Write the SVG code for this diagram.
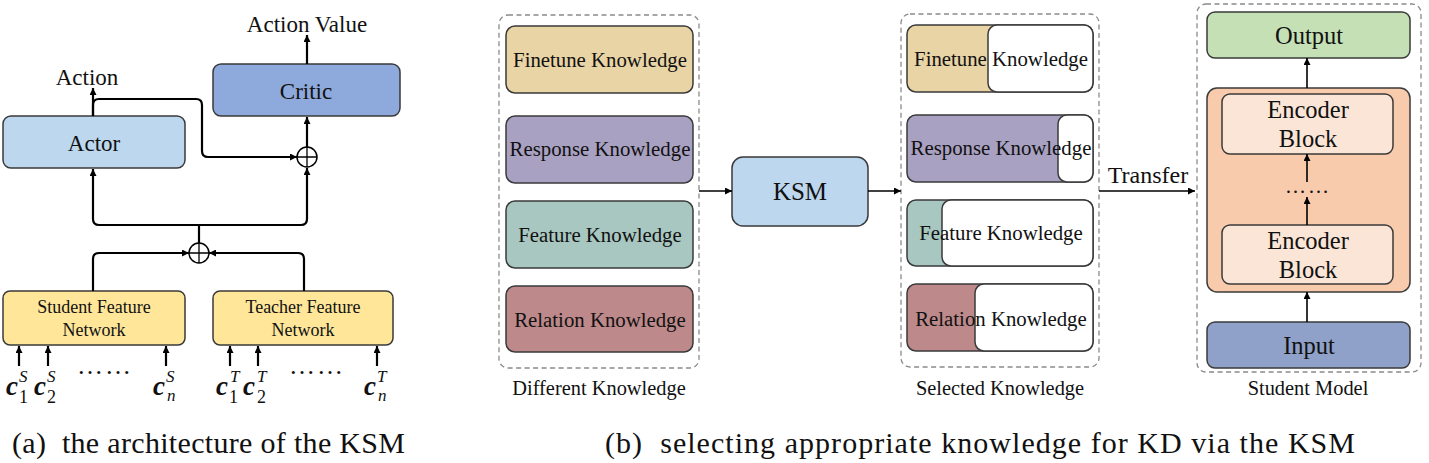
<svg xmlns="http://www.w3.org/2000/svg" width="1429" height="463" viewBox="0 0 1429 463" font-family="'Liberation Serif', 'Times New Roman', serif">
<style>
text{font-family:"Liberation Serif","Times New Roman",serif;fill:#111}
.box{stroke:#3a3a3a;stroke-width:1.5}
.dash{fill:none;stroke:#8a8a8a;stroke-width:1.3;stroke-dasharray:5 3.5}
.ca{fill:none;stroke:#000;stroke-width:2.2}
.cb{fill:none;stroke:#000;stroke-width:1.6}
.t23{font-size:23px;text-anchor:middle}
.t18{font-size:18px;text-anchor:middle}
.t21{font-size:20.8px;text-anchor:middle}
.t20{font-size:20.4px;text-anchor:middle}
.t24{font-size:24.5px;text-anchor:middle}
.cv{font-size:27px;font-weight:bold;font-style:italic}
.sup{font-size:17px;font-style:italic}
.sub{font-size:18px}
.dots{font-size:26px;letter-spacing:2px}
.dots2{font-size:21px;letter-spacing:2px}
.cap{font-size:30px}
</style>
<defs>
<marker id="ah" viewBox="0 0 10 10" refX="10" refY="5" markerWidth="8" markerHeight="7" markerUnits="userSpaceOnUse" orient="auto-start-reverse">
<path d="M0,0 L10,5 L0,10 z" fill="#000"/>
</marker>
</defs>

<!-- Part (a) -->
<g id="action-label"><text class="t23" x="87" y="85">Action</text></g>
<g id="action-value-label"><text class="t23" x="307" y="32">Action Value</text></g>
<g id="actor"><rect class="box" x="3" y="116" width="182" height="52" rx="8" fill="#BDD7EE"/><text class="t23" x="94" y="151">Actor</text></g>
<g id="critic"><rect class="box" x="213" y="64" width="187" height="52" rx="8" fill="#8EA9DB"/><text class="t23" x="306" y="99">Critic</text></g>
<g id="plus-top"><circle cx="307" cy="157" r="10" fill="#fff" stroke="#000" stroke-width="1.5"/><path d="M297,157 H317 M307,147 V167" stroke="#000" stroke-width="1.3"/></g>
<g id="plus-bottom"><circle cx="199" cy="253" r="10" fill="#fff" stroke="#000" stroke-width="1.5"/><path d="M189,253 H209 M199,243 V263" stroke="#000" stroke-width="1.3"/></g>
<g id="student-feature-network"><rect class="box" x="3" y="291" width="182" height="54" rx="7" fill="#FFE699"/><text class="t18" x="94" y="313">Student Feature</text><text class="t18" x="94" y="336">Network</text></g>
<g id="teacher-feature-network"><rect class="box" x="213" y="291" width="180" height="54" rx="7" fill="#FFE699"/><text class="t18" x="303" y="313">Teacher Feature</text><text class="t18" x="303" y="336">Network</text></g>

<g id="inputs-a">
<text x="6" y="395" class="cv">c</text><text x="19" y="382" class="sup">S</text><text x="19" y="403" class="sub">1</text>
<text x="34" y="395" class="cv">c</text><text x="47" y="382" class="sup">S</text><text x="47" y="403" class="sub">2</text>
<text x="77" y="374" class="dots">……</text>
<text x="153" y="395" class="cv">c</text><text x="166" y="382" class="sup">S</text><text x="167" y="401" class="sup">n</text>
<text x="216" y="395" class="cv">c</text><text x="230" y="382" class="sup">T</text><text x="229" y="403" class="sub">1</text>
<text x="243" y="395" class="cv">c</text><text x="257" y="382" class="sup">T</text><text x="257" y="403" class="sub">2</text>
<text x="289" y="374" class="dots">……</text>
<text x="364" y="395" class="cv">c</text><text x="377" y="382" class="sup">T</text><text x="378" y="401" class="sup">n</text>
</g>

<g id="connectors-a">
<path class="ca" d="M93,116 V88" marker-end="url(#ah)"/>
<path class="ca" d="M93,116 V105 Q93,99 99,99 H196 Q202,99 202,105 V151 Q202,157 208,157 H297" marker-end="url(#ah)"/>
<path class="ca" d="M307,147 V117" marker-end="url(#ah)"/>
<path class="ca" d="M307,64 V35" marker-end="url(#ah)"/>
<path class="ca" d="M93,169 V219 Q93,225 99,225 H301 Q307,225 307,219 V168" marker-start="url(#ah)" marker-end="url(#ah)"/>
<path class="ca" d="M199,243 V225"/>
<path class="ca" d="M93,291 V259 Q93,253 99,253 H189" marker-end="url(#ah)"/>
<path class="ca" d="M304,291 V259 Q304,253 298,253 H209" marker-end="url(#ah)"/>
<path class="ca" d="M19,366 V346" marker-end="url(#ah)"/>
<path class="ca" d="M48,366 V346" marker-end="url(#ah)"/>
<path class="ca" d="M166,366 V346" marker-end="url(#ah)"/>
<path class="ca" d="M230,366 V346" marker-end="url(#ah)"/>
<path class="ca" d="M258,366 V346" marker-end="url(#ah)"/>
<path class="ca" d="M377,366 V346" marker-end="url(#ah)"/>
</g>

<text class="cap" x="12" y="453" textLength="393" lengthAdjust="spacing" xml:space="preserve">(a)  the architecture of the KSM</text>

<!-- Part (b) -->
<g id="different-knowledge">
<rect class="dash" x="499" y="15" width="200" height="353" rx="9"/>
<text class="t20" x="599" y="395">Different Knowledge</text>
</g>
<g id="finetune-knowledge"><rect class="box" x="506" y="26" width="187" height="67" rx="9" fill="#E9D4A5"/><text class="t21" x="600" y="67">Finetune Knowledge</text></g>
<g id="response-knowledge"><rect class="box" x="506" y="116" width="187" height="67" rx="9" fill="#A9A1C2"/><text class="t21" x="600" y="156">Response Knowledge</text></g>
<g id="feature-knowledge"><rect class="box" x="506" y="201" width="187" height="67" rx="9" fill="#A8C7C0"/><text class="t21" x="600" y="242">Feature Knowledge</text></g>
<g id="relation-knowledge"><rect class="box" x="506" y="286" width="187" height="66" rx="9" fill="#BE898B"/><text class="t21" x="600" y="327">Relation Knowledge</text></g>

<g id="ksm"><rect class="box" x="732" y="157" width="136" height="69" rx="11" fill="#BDD7EE"/><text x="800" y="200" style="font-size:25px;text-anchor:middle">KSM</text></g>

<g id="selected-knowledge">
<rect class="dash" x="901" y="14" width="198" height="353" rx="9"/>
<text class="t20" x="1000" y="395">Selected Knowledge</text>
</g>
<g id="sel-finetune"><rect class="box" x="907" y="25" width="186" height="67" rx="9" fill="#E9D4A5"/><rect class="box" x="988" y="25" width="105" height="67" rx="9" fill="#fff"/><text class="t21" x="1001" y="66">Finetune Knowledge</text></g>
<g id="sel-response"><rect class="box" x="907" y="115" width="186" height="67" rx="9" fill="#A9A1C2"/><rect class="box" x="1058" y="115" width="35" height="67" rx="9" fill="#fff"/><text class="t21" x="1001" y="155">Response Knowledge</text></g>
<g id="sel-feature"><rect class="box" x="907" y="200" width="186" height="66" rx="9" fill="#A8C7C0"/><rect class="box" x="942" y="200" width="151" height="66" rx="9" fill="#fff"/><text class="t21" x="1001" y="240">Feature Knowledge</text></g>
<g id="sel-relation"><rect class="box" x="907" y="284" width="186" height="67" rx="9" fill="#BE898B"/><rect class="box" x="975" y="284" width="118" height="67" rx="9" fill="#fff"/><text class="t21" x="1001" y="326">Relation Knowledge</text></g>

<g id="transfer-label"><text x="1148" y="183" style="font-size:24px;text-anchor:middle">Transfer</text></g>

<g id="student-model">
<rect class="dash" x="1197" y="4" width="224" height="368" rx="9"/>
<text class="t20" x="1308" y="395">Student Model</text>
</g>
<g id="output"><rect class="box" x="1207" y="12" width="203" height="46" rx="8" fill="#C5E0B4"/><text class="t24" x="1309" y="44">Output</text></g>
<g id="encoder-stack"><rect class="box" x="1207" y="88" width="203" height="204" rx="10" fill="#F8CBAD"/></g>
<g id="encoder-block-1"><rect class="box" x="1222" y="94" width="171" height="60" rx="8" fill="#FBE5D6"/><text class="t24" x="1308" y="118">Encoder</text><text class="t24" x="1308" y="147">Block</text></g>
<g id="encoder-dots"><text x="1285" y="193" class="dots2">……</text></g>
<g id="encoder-block-2"><rect class="box" x="1222" y="225" width="171" height="59" rx="8" fill="#FBE5D6"/><text class="t24" x="1308" y="249">Encoder</text><text class="t24" x="1308" y="278">Block</text></g>
<g id="input"><rect class="box" x="1207" y="322" width="203" height="46" rx="8" fill="#8FA1C8"/><text class="t24" x="1309" y="354">Input</text></g>

<g id="connectors-b">
<path class="cb" d="M699,191 H732" marker-end="url(#ah)"/>
<path class="cb" d="M868,191 H901" marker-end="url(#ah)"/>
<path class="cb" d="M1099,191 H1195" marker-end="url(#ah)"/>
<path class="cb" d="M1307,88 V58" marker-end="url(#ah)"/>
<path class="cb" d="M1307,182 V154" marker-end="url(#ah)"/>
<path class="cb" d="M1307,225 V197" marker-end="url(#ah)"/>
<path class="cb" d="M1307,322 V292" marker-end="url(#ah)"/>
</g>

<text class="cap" x="605" y="453" textLength="750" lengthAdjust="spacing" xml:space="preserve">(b)  selecting appropriate knowledge for KD via the KSM</text>
</svg>
